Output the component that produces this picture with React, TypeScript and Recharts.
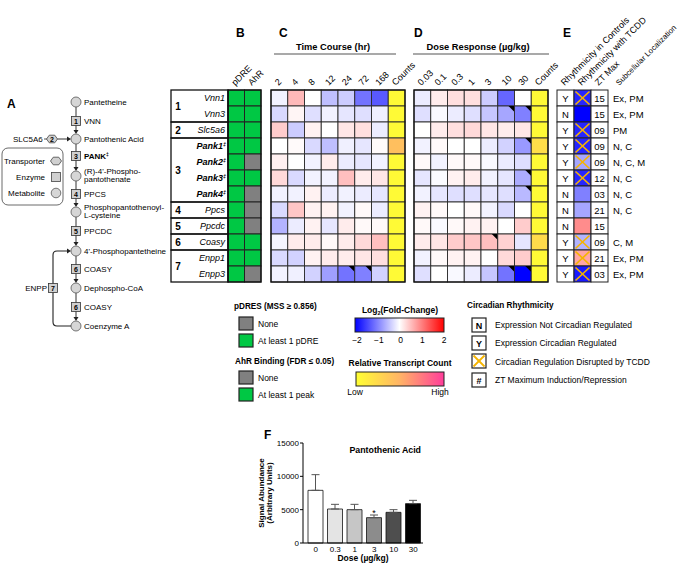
import React from "react";
import { ScatterChart, Scatter, XAxis, YAxis, BarChart, Bar, ErrorBar, Cell, LabelList } from "recharts";

const FONT = "'Liberation Sans', Arial, Helvetica, sans-serif";

// rows shared by panels B-E
const genes = ["Vnn1", "Vnn3", "Slc5a6", "Pank1", "Pank2", "Pank3", "Pank4", "Ppcs", "Ppcdc", "Coasy", "Enpp1", "Enpp3"];
const groupNumbers = [1, 2, 3, 4, 5, 6, 7];
const groupSizes = [2, 1, 4, 1, 1, 1, 2];
const boldGenes = ["Pank1", "Pank2", "Pank3", "Pank4"];

// panel B
const bLabels = ["pDRE", "AhR"];
const pdreHits = [1, 1, 1, 1, 1, 1, 1, 1, 1, 1, 1, 1];
const ahrHits = [1, 1, 1, 1, 0, 1, 0, 0, 0, 1, 1, 0];

// panel C : time course, log2 fold change
const timeLabels = ["2", "4", "8", "12", "24", "72", "168"];
const timeFC = [
  [-0.1, 0.55, 0, -0.5, -0.4, -1.1, -1.3],
  [-0.3, 0.08, -0.25, -0.1, -0.2, -0.25, -0.12],
  [0.4, -0.4, 0.1, 0, 0.2, 0.25, -0.15],
  [0, 0.04, -0.3, -0.5, -0.12, -0.2, 0.04],
  [0.12, 0, -0.1, 0.15, -0.15, -0.2, -0.1],
  [0.3, -0.3, -0.1, -0.1, 0.5, 0.15, 0.2],
  [-0.1, -0.1, 0.1, -0.15, -0.1, -0.15, -0.2],
  [-0.3, 0.45, 0.1, 0.1, -0.1, 0.05, -0.15],
  [-0.6, -0.15, 0.1, -0.2, 0.15, 0.05, 0.05],
  [-0.08, 0.15, 0.15, 0.05, 0.15, 0.3, 0.5],
  [-0.3, -0.35, 0.1, 0.15, 0.15, 0.2, 0.25],
  [-0.1, -0.12, -0.35, -0.75, -1.1, -1.0, -0.35],
];
const timeSigCols = [[], [], [], [], [], [], [], [], [], [], [], [4, 5]];
const timeCounts = [0.03, 0.03, 0.03, 0.42, 0.03, 0.03, 0.03, 0.03, 0.03, 0.03, 0.03, 0.03];

// panel D : dose response, log2 fold change
const doseLabels = ["0.03", "0.1", "0.3", "1", "3", "10", "30"];
const doseFC = [
  [-0.15, 0.15, 0.25, 0.25, -0.4, -1.2, 0],
  [-0.25, -0.05, -0.15, -0.25, -0.45, -0.7, -1.0],
  [0, 0.15, 0.25, 0.3, 0.2, 0.15, 0.2],
  [-0.1, 0.05, 0, 0, -0.15, -0.35, -0.8],
  [0.05, -0.1, 0.05, 0.05, -0.05, -0.15, -0.25],
  [-0.2, -0.03, 0.1, 0.15, -0.1, -0.2, -0.65],
  [-0.1, -0.2, -0.25, -0.25, -0.2, -0.25, -0.55],
  [0.1, 0.05, 0, 0.05, -0.1, -0.3, 0],
  [0.05, -0.05, 0.05, 0.1, 0.1, 0, 0.4],
  [0.15, 0.2, 0.4, 0.45, 0.5, 0.35, -0.2],
  [-0.1, 0.05, 0.1, 0.1, 0, 0.3, 0.4],
  [-0.25, 0, -0.05, -0.15, -0.45, -1.1, -2.0],
];
const doseSigCols = [[], [5, 6], [], [6], [], [6], [6], [], [], [4], [], [5, 6]];
const doseCounts = [0.03, 0.03, 0.03, 0.22, 0.03, 0.03, 0.03, 0.03, 0.03, 0.24, 0.03, 0.03];

// panel E : circadian
const eLabels = ["Rhythmicity in Controls", "Rhythmicity with TCDD", "ZT Max"];
const rhythmCtrl = ["Y", "N", "Y", "Y", "Y", "Y", "N", "N", "N", "Y", "Y", "Y"];
const tcddFC = [-1.7, -2, -1.7, -1.7, -0.7, -1.7, -1.0, -0.7, 0.9, -0.6, 0.7, -1.8];
const disrupted = [1, 0, 1, 1, 1, 1, 0, 0, 0, 1, 1, 1];
const ztMax = ["15", "15", "09", "09", "09", "12", "03", "21", "15", "09", "21", "03"];
const localization = ["Ex, PM", "Ex, PM", "PM", "N, C", "N, C, M", "N, C", "N, C", "N, C", "", "C, M", "Ex, PM", "Ex, PM"];

// panel F
const doses = ["0", "0.3", "1", "3", "10", "30"];
const signal = [7900, 5100, 5000, 3800, 4600, 5900];
const sem = [2350, 700, 800, 400, 400, 500];
const sigMarks = ["", "", "", "*", "", ""];
const barFills = ["#ffffff", "#e4e4e4", "#c6c6c6", "#8c8c8c", "#4e4e4e", "#000000"];

const ROW_TOP = 90;
const ROW_H = 16;

const fcColor = (v: number) => {
  const t = Math.max(-1, Math.min(1, v / 2));
  if (t < 0) {
    const c = Math.round(255 * (1 + t));
    return `rgb(${c},${c},255)`;
  }
  const c = Math.round(255 * (1 - t));
  return `rgb(255,${c},${c})`;
};

const countColor = (v: number) => {
  const a = [255, 255, 51], m = [255, 179, 102], b = [255, 61, 154];
  const lerp = (p: number[], q: number[], t: number) => p.map((x, i) => Math.round(x + (q[i] - x) * t));
  const c = v < 0.5 ? lerp(a, m, v / 0.5) : lerp(m, b, (v - 0.5) / 0.5);
  return `rgb(${c[0]},${c[1]},${c[2]})`;
};

const RotTick = (props: any) => {
  const { x, y, payload, labels, size } = props;
  const lx = x - 1;
  return (
    <text x={lx} y={y} transform={`rotate(-45 ${lx} ${y})`} fontFamily={FONT} fontSize={size} fill="#000">
      {labels[payload.value]}
    </text>
  );
};

type HeatProps = { left: number; colW: number; nCols: number; points: any[]; labels: string[]; shape: (p: any) => any; tickFont?: number };

const Heat = ({ left, colW, nCols, points, labels, shape, tickFont = 9 }: HeatProps) => {
  const w = colW * nCols + 2;
  const h = ROW_TOP + ROW_H * genes.length + 2;
  return (
    <div style={{ position: "absolute", left: left - 1, top: 0 }}>
      <ScatterChart width={w} height={h} margin={{ top: 0, right: 1, bottom: 2, left: 1 }}>
        <XAxis
          type="number"
          dataKey="x"
          orientation="top"
          domain={[-0.5, nCols - 0.5]}
          ticks={Array.from({ length: nCols }, (_, i) => i)}
          interval={0}
          height={ROW_TOP}
          axisLine={false}
          tickLine={false}
          tickSize={0}
          tickMargin={4}
          tick={(t: any) => <RotTick {...t} labels={labels} size={tickFont} />}
        />
        <YAxis type="number" dataKey="y" domain={[-0.5, genes.length - 0.5]} reversed hide />
        <Scatter data={points} shape={shape} isAnimationActive={false} />
      </ScatterChart>
    </div>
  );
};

const heatCell = (colW: number) => (p: any) => {
  const { cx, cy, payload } = p;
  const x = cx - colW / 2;
  const y = cy - ROW_H / 2;
  const fill = payload.kind === "count" ? countColor(payload.v) : fcColor(payload.v);
  return (
    <g>
      <rect x={x} y={y} width={colW} height={ROW_H} fill={fill} stroke="#2a2a2a" strokeWidth={0.9} />
      {payload.sig ? <polygon points={`${x + colW - 6},${y} ${x + colW},${y} ${x + colW},${y + 6}`} fill="#000" /> : null}
    </g>
  );
};

const bCell = (colW: number) => (p: any) => {
  const { cx, cy, payload } = p;
  return (
    <rect x={cx - colW / 2} y={cy - ROW_H / 2} width={colW} height={ROW_H}
      fill={payload.v ? "#00c844" : "#808080"} stroke="#222" strokeWidth={1} />
  );
};

const E_W = 17;
const eCell = (p: any) => {
  const { cx, cy, payload } = p;
  const x = cx - E_W / 2;
  const y = cy - ROW_H / 2;
  if (payload.x === 0) {
    return (
      <g>
        <rect x={x} y={y} width={E_W} height={ROW_H} fill="#fff" stroke="#222" strokeWidth={1} />
        <text x={cx} y={cy + 3.5} textAnchor="middle" fontFamily={FONT} fontSize={9.5}>{payload.text}</text>
      </g>
    );
  }
  if (payload.x === 1) {
    return (
      <g>
        <rect x={x} y={y} width={E_W} height={ROW_H} fill={fcColor(payload.v)} stroke="#222" strokeWidth={1} />
        {payload.cross ? (
          <g stroke="#f5b400" strokeWidth={1.7}>
            <line x1={x + 1.5} y1={y + 1.5} x2={x + E_W - 1.5} y2={y + ROW_H - 1.5} />
            <line x1={x + 1.5} y1={y + ROW_H - 1.5} x2={x + E_W - 1.5} y2={y + 1.5} />
          </g>
        ) : null}
      </g>
    );
  }
  return (
    <g>
      <rect x={x} y={y} width={E_W} height={ROW_H} fill="#fff" stroke="#222" strokeWidth={1} />
      <text x={cx} y={cy + 3.5} textAnchor="middle" fontFamily={FONT} fontSize={9.5}>{payload.text}</text>
      <text x={x + E_W + 5} y={cy + 3.5} fontFamily={FONT} fontSize={9.5}>{payload.loc}</text>
    </g>
  );
};

const bPoints = genes.flatMap((_, r) => [
  { x: 0, y: r, v: pdreHits[r] },
  { x: 1, y: r, v: ahrHits[r] },
]);
const timePoints = genes.flatMap((_, r) => [
  ...timeFC[r].map((v, c) => ({ x: c, y: r, kind: "fc", v, sig: timeSigCols[r].includes(c) })),
  { x: timeLabels.length, y: r, kind: "count", v: timeCounts[r], sig: false },
]);
const dosePoints = genes.flatMap((_, r) => [
  ...doseFC[r].map((v, c) => ({ x: c, y: r, kind: "fc", v, sig: doseSigCols[r].includes(c) })),
  { x: doseLabels.length, y: r, kind: "count", v: doseCounts[r], sig: false },
]);
const ePoints = genes.flatMap((_, r) => [
  { x: 0, y: r, text: rhythmCtrl[r] },
  { x: 1, y: r, v: tcddFC[r], cross: disrupted[r] === 1 },
  { x: 2, y: r, text: ztMax[r], loc: localization[r] },
]);

const barData = doses.map((d, i) => ({ dose: d, signal: signal[i], err: [0, sem[i]], sig: sigMarks[i] }));

// pathway diagram (panel A)
const metabolites = [
  { label: ["Pantetheine"], y: 102 },
  { label: ["Pantothenic Acid"], y: 139 },
  { label: ["(R)-4'-Phospho-", "pantothenate"], y: 176 },
  { label: ["Phosphopantothenoyl-", "L-cysteine"], y: 212 },
  { label: ["4'-Phosphopantetheine"], y: 251 },
  { label: ["Dephospho-CoA"], y: 288 },
  { label: ["Coenzyme A"], y: 326 },
];
const enzymes = [
  { n: "1", name: "VNN", y: 121 },
  { n: "3", name: "PANK", y: 156, bold: true },
  { n: "4", name: "PPCS", y: 194 },
  { n: "5", name: "PPCDC", y: 231 },
  { n: "6", name: "COASY", y: 269 },
  { n: "6", name: "COASY", y: 307 },
];

const hex = (cx: number, cy: number, r: number) =>
  [0, 60, 120, 180, 240, 300]
    .map((a) => `${cx + r * Math.cos((a * Math.PI) / 180)},${cy + 0.8 * r * Math.sin((a * Math.PI) / 180)}`)
    .join(" ");

const arrowDown = (x: number, tip: number) => `${x - 2.5},${tip - 4} ${x + 2.5},${tip - 4} ${x},${tip}`;
const arrowRight = (tip: number, y: number) => `${tip - 4},${y - 2.5} ${tip - 4},${y + 2.5} ${tip},${y}`;

const Pathway = () => {
  const mx = 76;
  return (
    <g fontFamily={FONT} fontSize={8}>
      <text x={7} y={108} fontSize={12} fontWeight="bold">A</text>
      {metabolites.slice(1).map((m, i) => (
        <g key={i}>
          <line x1={mx} y1={metabolites[i].y + 5} x2={mx} y2={m.y - 8} stroke="#333" strokeWidth={1} />
          <polygon points={arrowDown(mx, m.y - 5)} fill="#222" />
        </g>
      ))}
      {metabolites.map((m, i) => (
        <g key={i}>
          <circle cx={mx} cy={m.y} r={5} fill="#d6d6d6" stroke="#555" strokeWidth={0.8} />
          {m.label.length === 1 ? (
            <text x={84} y={m.y + 3}>{m.label[0]}</text>
          ) : (
            <>
              <text x={84} y={m.y - 2.5}>{m.label[0]}</text>
              <text x={84} y={m.y + 6}>{m.label[1]}</text>
            </>
          )}
        </g>
      ))}
      {enzymes.map((e, i) => (
        <g key={i}>
          <rect x={mx - 4.5} y={e.y - 4.5} width={9} height={9} fill="#d0d0d0" stroke="#333" strokeWidth={0.8} />
          <text x={mx} y={e.y + 2.5} fontSize={7} fontWeight="bold" textAnchor="middle">{e.n}</text>
          <text x={84} y={e.y + 3} fontWeight={e.bold ? "bold" : "normal"}>
            {e.name}
            {e.bold ? <tspan fontSize={5} dy={-3}>‡</tspan> : null}
          </text>
        </g>
      ))}
      {/* SLC5A6 transporter */}
      <text x={13} y={142}>SLC5A6</text>
      <line x1={44} y1={139} x2={47} y2={139} stroke="#555" />
      <polygon points={hex(52, 139, 5.5)} fill="#d0d0d0" stroke="#444" strokeWidth={0.8} />
      <text x={52} y={141.5} fontSize={7} fontWeight="bold" textAnchor="middle">2</text>
      <line x1={57.5} y1={139} x2={67} y2={139} stroke="#333" />
      <polygon points={arrowRight(71, 139)} fill="#222" />
      {/* ENPP loop */}
      <path d="M 71 326 H 57 Q 53 326 53 322 V 255 Q 53 251 57 251 H 67" fill="none" stroke="#222" strokeWidth={1.1} />
      <polygon points={arrowRight(71, 251)} fill="#222" />
      <rect x={48.5} y={283.5} width={9} height={9} fill="#d0d0d0" stroke="#333" strokeWidth={0.8} />
      <text x={53} y={290.5} fontSize={7} fontWeight="bold" textAnchor="middle">7</text>
      <text x={47} y={291} textAnchor="end">ENPP</text>
      {/* legend box */}
      <rect x={2} y={148} width={61} height={57} rx={6} fill="none" stroke="#444" strokeWidth={0.8} />
      <text x={45} y={164} textAnchor="end">Transporter</text>
      <polygon points={hex(56, 161, 5.5)} fill="#d0d0d0" stroke="#444" strokeWidth={0.8} />
      <text x={45} y={180} textAnchor="end">Enzyme</text>
      <rect x={51.5} y={172.5} width={9} height={9} fill="#d0d0d0" stroke="#444" strokeWidth={0.8} />
      <text x={45} y={196} textAnchor="end">Metabolite</text>
      <circle cx={56} cy={193} r={4.8} fill="#d6d6d6" stroke="#555" strokeWidth={0.8} />
    </g>
  );
};

const GeneLabels = () => {
  let start = 0;
  return (
    <g fontFamily={FONT}>
      {groupSizes.map((n, gi) => {
        const y0 = ROW_TOP + start * ROW_H;
        const rows = genes.slice(start, start + n);
        const first = start;
        start += n;
        return (
          <g key={gi}>
            <rect x={171} y={y0} width={57} height={n * ROW_H} fill="none" stroke="#111" strokeWidth={1.3} />
            <text x={178} y={y0 + (n * ROW_H) / 2 + 3.5} fontSize={10} fontWeight="bold" textAnchor="middle">
              {groupNumbers[gi]}
            </text>
            {rows.map((g, k) => {
              const bold = boldGenes.includes(g);
              const cy = ROW_TOP + (first + k) * ROW_H + ROW_H / 2;
              return (
                <text key={g} x={bold ? 226 : 225} y={cy + 3.3} fontSize={9} fontStyle="italic"
                  fontWeight={bold ? "bold" : "normal"} textAnchor="end">
                  {g}
                  {bold ? <tspan fontSize={5.5} dy={-3.5}>‡</tspan> : null}
                </text>
              );
            })}
          </g>
        );
      })}
    </g>
  );
};

const Legends = () => (
  <g fontFamily={FONT} fontSize={8.5}>
    <defs>
      <linearGradient id="fcGrad" x1="0" x2="1" y1="0" y2="0">
        <stop offset="0" stopColor="#0000ff" />
        <stop offset="0.5" stopColor="#ffffff" />
        <stop offset="1" stopColor="#ff0000" />
      </linearGradient>
      <linearGradient id="cntGrad" x1="0" x2="1" y1="0" y2="0">
        <stop offset="0" stopColor="#ffff33" />
        <stop offset="0.5" stopColor="#ffb366" />
        <stop offset="1" stopColor="#ff3d9a" />
      </linearGradient>
    </defs>
    <text x={234} y={309} fontWeight="bold" fontSize={8.2}>pDRES (MSS ≥ 0.856)</text>
    <rect x={239} y={317} width={14} height={13} fill="#808080" stroke="#222" strokeWidth={1.2} />
    <text x={258} y={326.5}>None</text>
    <rect x={239} y={334} width={14} height={13} fill="#00c844" stroke="#222" strokeWidth={1.2} />
    <text x={258} y={343.5}>At least 1 pDRE</text>
    <text x={235} y={364} fontWeight="bold" fontSize={8.2}>AhR Binding (FDR ≤ 0.05)</text>
    <rect x={239} y={371} width={14} height={13} fill="#808080" stroke="#222" strokeWidth={1.2} />
    <text x={258} y={380.5}>None</text>
    <rect x={239} y={388} width={14} height={13} fill="#00c844" stroke="#222" strokeWidth={1.2} />
    <text x={258} y={397.5}>At least 1 peak</text>

    <text x={400} y={313} fontWeight="bold" textAnchor="middle">
      Log<tspan fontSize={5.5} dy={2}>2</tspan><tspan dy={-2}>(Fold-Change)</tspan>
    </text>
    <rect x={355} y={318} width={89} height={14} fill="url(#fcGrad)" stroke="#222" strokeWidth={1} />
    {["−2", "−1", "0", "1", "2"].map((t, i) => (
      <text key={t} x={357 + i * 21.8} y={343} textAnchor="middle">{t}</text>
    ))}
    <text x={400} y={366} fontWeight="bold" textAnchor="middle">Relative Transcript Count</text>
    <rect x={356} y={372} width={88} height={14} fill="url(#cntGrad)" stroke="#222" strokeWidth={1} />
    <text x={355} y={395} textAnchor="middle">Low</text>
    <text x={440} y={395} textAnchor="middle">High</text>

    <text x={467} y={308} fontWeight="bold" fontSize={8.2}>Circadian Rhythmicity</text>
    <rect x={472} y={318} width={14} height={14} fill="#fff" stroke="#222" strokeWidth={1.2} />
    <text x={479} y={328.5} textAnchor="middle" fontWeight="bold" fontSize={9}>N</text>
    <text x={495} y={328}>Expression Not Circadian Regulated</text>
    <rect x={472} y={336} width={14} height={14} fill="#fff" stroke="#222" strokeWidth={1.2} />
    <text x={479} y={346.5} textAnchor="middle" fontWeight="bold" fontSize={9}>Y</text>
    <text x={495} y={346}>Expression Circadian Regulated</text>
    <rect x={472} y={354} width={14} height={14} fill="#fff" stroke="#222" strokeWidth={1.2} />
    <g stroke="#f5b400" strokeWidth={1.8}>
      <line x1={473.5} y1={355.5} x2={484.5} y2={366.5} />
      <line x1={473.5} y1={366.5} x2={484.5} y2={355.5} />
    </g>
    <text x={495} y={364.5}>Circadian Regulation Disrupted by TCDD</text>
    <rect x={472} y={373} width={14} height={14} fill="#fff" stroke="#222" strokeWidth={1.2} />
    <text x={479} y={383.5} textAnchor="middle" fontWeight="bold" fontSize={9}>#</text>
    <text x={495} y={383}>ZT Maximum Induction/Repression</text>
  </g>
);

const Headers = () => (
  <g fontFamily={FONT}>
    <text x={236} y={37} fontSize={12} fontWeight="bold">B</text>
    <text x={279} y={37} fontSize={12} fontWeight="bold">C</text>
    <text x={414} y={37} fontSize={12} fontWeight="bold">D</text>
    <text x={563} y={37} fontSize={12} fontWeight="bold">E</text>
    <text x={333} y={50} fontSize={9.3} fontWeight="bold" textAnchor="middle">Time Course (hr)</text>
    <line x1={274} y1={54} x2={396} y2={54} stroke="#555" strokeWidth={1.2} />
    <text x={478} y={50} fontSize={9.3} fontWeight="bold" textAnchor="middle">Dose Response (µg/kg)</text>
    <line x1={413} y1={54} x2={549} y2={54} stroke="#555" strokeWidth={1.2} />
    <text x={619} y={86} fontSize={7.8} transform="rotate(-45 619 86)">Subcellular Localization</text>
    {/* table frames */}
    <rect x={228} y={ROW_TOP} width={33} height={ROW_H * genes.length} fill="none" stroke="#111" strokeWidth={1.3} />
    <rect x={271} y={ROW_TOP} width={134} height={ROW_H * genes.length} fill="none" stroke="#111" strokeWidth={1.3} />
    <rect x={414} y={ROW_TOP} width={134} height={ROW_H * genes.length} fill="none" stroke="#111" strokeWidth={1.3} />
    {/* panel F texts */}
    <text x={264} y={439} fontSize={12} fontWeight="bold">F</text>
    <text x={421} y={453} fontSize={8.8} fontWeight="bold" textAnchor="end">Pantothenic Acid</text>
    <text x={264} y={493} fontSize={8} fontWeight="bold" textAnchor="middle" transform="rotate(-90 264 493)">Signal Abundance</text>
    <text x={272} y={493} fontSize={8} fontWeight="bold" textAnchor="middle" transform="rotate(-90 272 493)">(Arbitrary Units)</text>
    <text x={363} y={561} fontSize={8.5} fontWeight="bold" textAnchor="middle">Dose (µg/kg)</text>
  </g>
);

export default function App() {
  const tick = { fontSize: 8, fill: "#000", fontFamily: FONT };
  return (
    <div style={{ position: "absolute", left: 0, top: 0, width: 685, height: 566, background: "#fff", overflow: "hidden" }}>
      <style>{`.recharts-surface{overflow:visible}`}</style>
      <Heat left={228} colW={16.5} nCols={2} points={bPoints} labels={bLabels} shape={bCell(16.5)} />
      <Heat left={271} colW={16.75} nCols={8} points={timePoints} labels={[...timeLabels, "Counts"]} shape={heatCell(16.75)} />
      <Heat left={414} colW={16.75} nCols={8} points={dosePoints} labels={[...doseLabels, "Counts"]} shape={heatCell(16.75)} />
      <Heat left={557} colW={E_W} nCols={3} points={ePoints} labels={eLabels} shape={eCell} tickFont={9} />

      <div style={{ position: "absolute", left: 272, top: 438 }}>
        <BarChart width={156} height={119} data={barData} margin={{ top: 5, right: 5, bottom: 0, left: 0 }}>
          <XAxis dataKey="dose" interval={0} height={14} tick={tick} tickLine={false} tickSize={0} tickMargin={3}
            axisLine={{ stroke: "#000" }} padding={{ left: 3, right: 0 }} />
          <YAxis domain={[0, 15000]} ticks={[0, 5000, 10000, 15000]} width={31} tick={tick} tickSize={3}
            tickMargin={1} tickLine={{ stroke: "#000" }} axisLine={{ stroke: "#000" }} />
          <Bar dataKey="signal" barSize={15} stroke="#111" strokeWidth={0.8} isAnimationActive={false}>
            {barData.map((_, i) => (
              <Cell key={`c-${i}`} fill={barFills[i]} />
            ))}
            <ErrorBar dataKey="err" width={4} stroke="#555" strokeWidth={1} direction="y" />
            <LabelList dataKey="sig" position="top" offset={2} style={{ fontSize: 9, fill: "#000", fontFamily: FONT }} />
          </Bar>
        </BarChart>
      </div>

      <svg width={685} height={566} style={{ position: "absolute", left: 0, top: 0, pointerEvents: "none" }}>
        <Pathway />
        <GeneLabels />
        <Headers />
        <Legends />
      </svg>
    </div>
  );
}
